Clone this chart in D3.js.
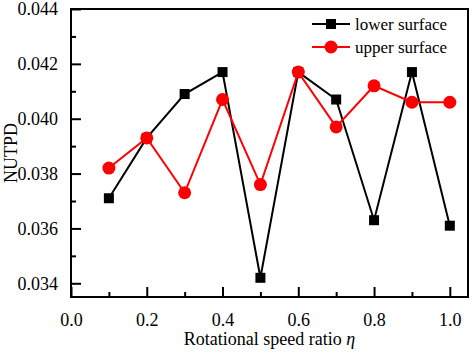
<!DOCTYPE html>
<html>
<head>
<meta charset="utf-8">
<script src="https://cdn.jsdelivr.net/npm/d3@7"></script>
<style>
  body { margin: 0; background: #fff; }
  text { font-family: "Liberation Serif", "Times New Roman", serif; }
</style>
</head>
<body>
<div id="chart"></div>
<script>
const ratios = [0.1, 0.2, 0.3, 0.4, 0.5, 0.6, 0.7, 0.8, 0.9, 1.0];
const lowerSurface = [0.0371, 0.0393, 0.0409, 0.0417, 0.0342, 0.0417, 0.0407, 0.0363, 0.0417, 0.0361];
const upperSurface = [0.0382, 0.0393, 0.0373, 0.0407, 0.0376, 0.0417, 0.0397, 0.0412, 0.0406, 0.0406];
const xTicks = [0.0, 0.2, 0.4, 0.6, 0.8, 1.0];
const yTicks = [0.034, 0.036, 0.038, 0.040, 0.042, 0.044];

const width = 474, height = 353;
const margin = {top: 9, right: 6, bottom: 56, left: 71};

let svg = d3.select('#chart').append('svg')
  .attr('width', width)
  .attr('height', height);

let x = d3.scaleLinear().domain([0, 1.048]).range([margin.left, width - margin.right]);
let y = d3.scaleLinear().domain([0.0335, 0.044]).range([height - margin.bottom, margin.top]);

//minor ticks
let xMinor = d3.range(0.1, 1.01, 0.2);
let yMinor = d3.range(0.035, 0.0435, 0.002);

svg.append('g')
  .attr('transform', `translate(0,${height - margin.bottom})`)
  .call(d3.axisBottom(x).tickValues(xTicks).tickSize(-10).tickPadding(16).tickFormat(d3.format('.1f')));
svg.append('g')
  .attr('transform', `translate(0,${height - margin.bottom})`)
  .call(d3.axisBottom(x).tickValues(xMinor).tickSize(-5).tickFormat(''));

svg.append('g')
  .attr('transform', `translate(${margin.left},0)`)
  .call(d3.axisLeft(y).tickValues(yTicks).tickSize(-10).tickPadding(13).tickFormat(d3.format('.3f')));
svg.append('g')
  .attr('transform', `translate(${margin.left},0)`)
  .call(d3.axisLeft(y).tickValues(yMinor).tickSize(-5).tickFormat(''));

svg.selectAll('.domain').remove();
svg.selectAll('.tick line').attr('stroke', '#000').attr('stroke-width', 2);
svg.selectAll('.tick text')
  .attr('font-size', 18)
  .attr('font-family', '"Liberation Serif", serif')
  .attr('fill', '#000');

//frame
svg.append('rect')
  .attr('x', margin.left)
  .attr('y', margin.top)
  .attr('width', width - margin.right - margin.left)
  .attr('height', height - margin.bottom - margin.top)
  .attr('fill', 'none')
  .attr('stroke', '#000')
  .attr('stroke-width', 2);

let line = d3.line().x((d, i) => x(ratios[i])).y(d => y(d));

svg.append('path').datum(lowerSurface)
  .attr('d', line).attr('fill', 'none').attr('stroke', '#000').attr('stroke-width', 2);
svg.selectAll('.sq').data(lowerSurface).enter().append('rect')
  .attr('x', (d, i) => x(ratios[i]) - 5)
  .attr('y', d => y(d) - 5)
  .attr('width', 10).attr('height', 10)
  .attr('fill', '#000');

svg.append('path').datum(upperSurface)
  .attr('d', line).attr('fill', 'none').attr('stroke', '#f00').attr('stroke-width', 2);
svg.selectAll('.dot').data(upperSurface).enter().append('circle')
  .attr('cx', (d, i) => x(ratios[i]))
  .attr('cy', d => y(d))
  .attr('r', 6.5)
  .attr('fill', '#f00');

//legend
let legend = svg.append('g');
[['lower surface', '#000', 'square', 24], ['upper surface', '#f00', 'circle', 47]].forEach(([label, col, shape, ly]) => {
  legend.append('line').attr('x1', 312).attr('x2', 350).attr('y1', ly).attr('y2', ly)
    .attr('stroke', col).attr('stroke-width', 2);
  if (shape === 'square') {
    legend.append('rect').attr('x', 326).attr('y', ly - 5).attr('width', 10).attr('height', 10).attr('fill', col);
  } else {
    legend.append('circle').attr('cx', 331).attr('cy', ly).attr('r', 6.5).attr('fill', col);
  }
  legend.append('text').attr('x', 355).attr('y', ly + 5.5).attr('font-size', 17).text(label);
});

//axis titles
svg.append('text')
  .attr('x', (margin.left + width - margin.right) / 2)
  .attr('y', 345)
  .attr('text-anchor', 'middle')
  .attr('font-size', 18)
  .html('Rotational speed ratio <tspan font-style="italic">η</tspan>');

svg.append('text')
  .attr('transform', `translate(17,${(margin.top + height - margin.bottom) / 2}) rotate(-90)`)
  .attr('text-anchor', 'middle')
  .attr('font-size', 18)
  .text('NUTPD');
</script>
</body>
</html>
